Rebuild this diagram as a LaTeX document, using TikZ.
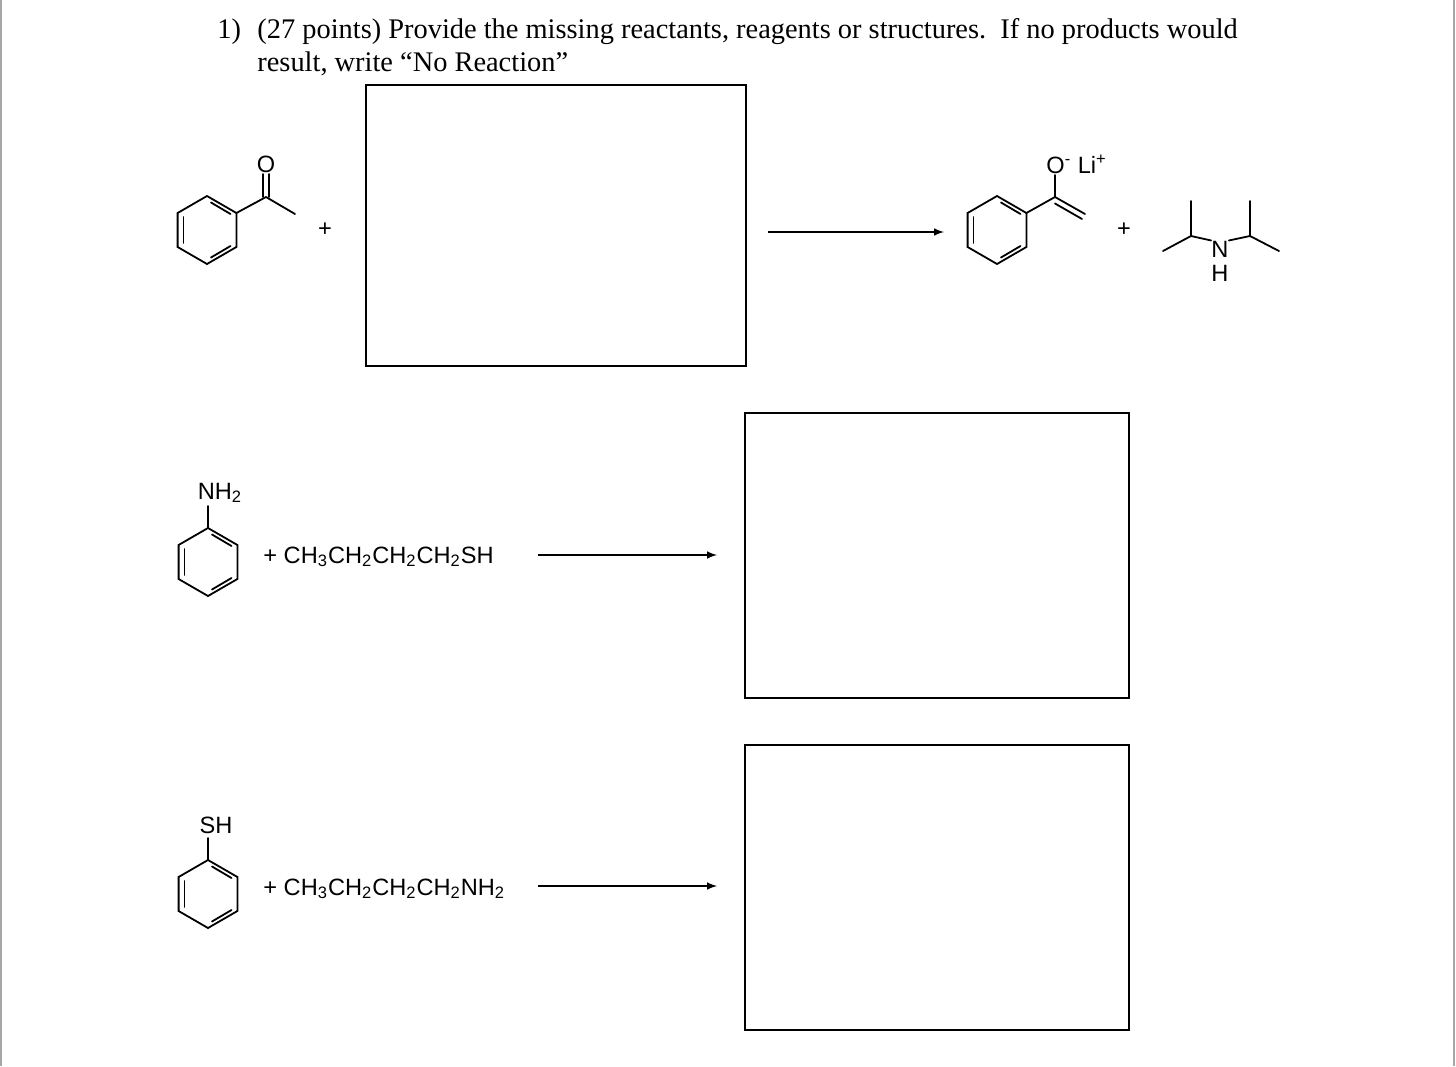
\documentclass[tikz,border=0pt]{standalone}
\usepackage{fontspec}
\setmainfont{Liberation Serif}
\setsansfont{Liberation Sans}
\begin{document}
\begin{tikzpicture}[x=0.5pt,y=-0.5pt,
  bond/.style={line width=0.9pt,line cap=round},
  lab/.style={font=\sffamily\fontsize{11.8}{13}\selectfont,inner sep=0pt},
  ans/.style={draw,line width=0.7pt},
  rxn/.style={line width=0.7pt,-latex},
  hdr/.style={font=\fontsize{14.2}{16}\selectfont,inner sep=0pt,anchor=base west}]
\useasboundingbox (0,0) rectangle (1456,1066);
\draw[gray!70,line width=0.7pt] (1,0)--(1,1066) (1454,0)--(1454,1066);
\node[hdr] (h1) at (217,38) {1)};
\node[hdr] (h2) at (257,38) {(27 points) Provide the missing reactants, reagents or structures.\ \ If no products would};
\node[hdr] (h3) at (257,71) {result, write “No Reaction”};
% benzene macro
\newcommand{\benz}[2]{%
 \draw[bond] (#1+0,#2-34)--(#1+29.4,#2-17)--(#1+29.4,#2+17)--(#1,#2+34)--(#1-29.4,#2+17)--(#1-29.4,#2-17)--cycle;
 \draw[bond] (#1-23.5,#2-13)--(#1-23.5,#2+13);
 \draw[bond] (#1+4,#2-27.5)--(#1+23.5,#2-16);
 \draw[bond] (#1+4,#2+27.5)--(#1+23.5,#2+16);}
% acetophenone
\benz{207}{230}
\node[lab] (o1) at (266,164) {O};
\draw[bond] (236.4,213)--(266,197)--(295,214);
\draw[bond] (263,197)--(263,174) (269,197)--(269,174);
\node[lab] (p1) at (325,230) {+};
\node[ans,minimum width=380*0.5pt,minimum height=281*0.5pt] (b1) at (556,225.5) {};
\coordinate (a1s) at (768,232); \coordinate (a1e) at (944,232);
\draw[rxn] (a1s)--(a1e);
% enolate
\benz{997}{230}
\draw[bond] (1026.4,213)--(1055,197)--(1055,175);
\draw[bond] (1055,197)--(1085,214) (1055,203.5)--(1082,219);
\node[lab,anchor=west] (o2) at (1046,164) {O\textsuperscript{-}\ Li\textsuperscript{+}};
\node[lab] (p2) at (1124,230) {+};
% diisopropylamine
\node[lab] (n) at (1220,249) {N};
\node[lab] (hh) at (1220,273) {H};
\draw[bond] (1163,251)--(1191,236)--(1191,201) (1191,236)--(n.north west);
\draw[bond] (n.north east)--(1250,236)--(1250,201) (1250,236)--(1279,251);
% row 2
\benz{208}{562}
\node[lab] (nh2) at (220,493) {NH\textsubscript{2}};
\draw[bond] (208,528)--(208,506);
\node[lab,anchor=west] (r2) at (263,557) {+ CH\textsubscript{3}CH\textsubscript{2}CH\textsubscript{2}CH\textsubscript{2}SH};
\coordinate (a2s) at (538,555); \coordinate (a2e) at (717,555);
\draw[rxn] (a2s)--(a2e);
\node[ans,minimum width=384*0.5pt,minimum height=285*0.5pt] (b2) at (937,555.5) {};
% row 3
\benz{208}{894}
\node[lab] (sh) at (216,825) {SH};
\draw[bond] (208,860)--(208,838);
\node[lab,anchor=west] (r3) at (263,889) {+ CH\textsubscript{3}CH\textsubscript{2}CH\textsubscript{2}CH\textsubscript{2}NH\textsubscript{2}};
\coordinate (a3s) at (538,886); \coordinate (a3e) at (717,886);
\draw[rxn] (a3s)--(a3e);
\node[ans,minimum width=384*0.5pt,minimum height=285*0.5pt] (b3) at (937,887.5) {};
\end{tikzpicture}
\end{document}
